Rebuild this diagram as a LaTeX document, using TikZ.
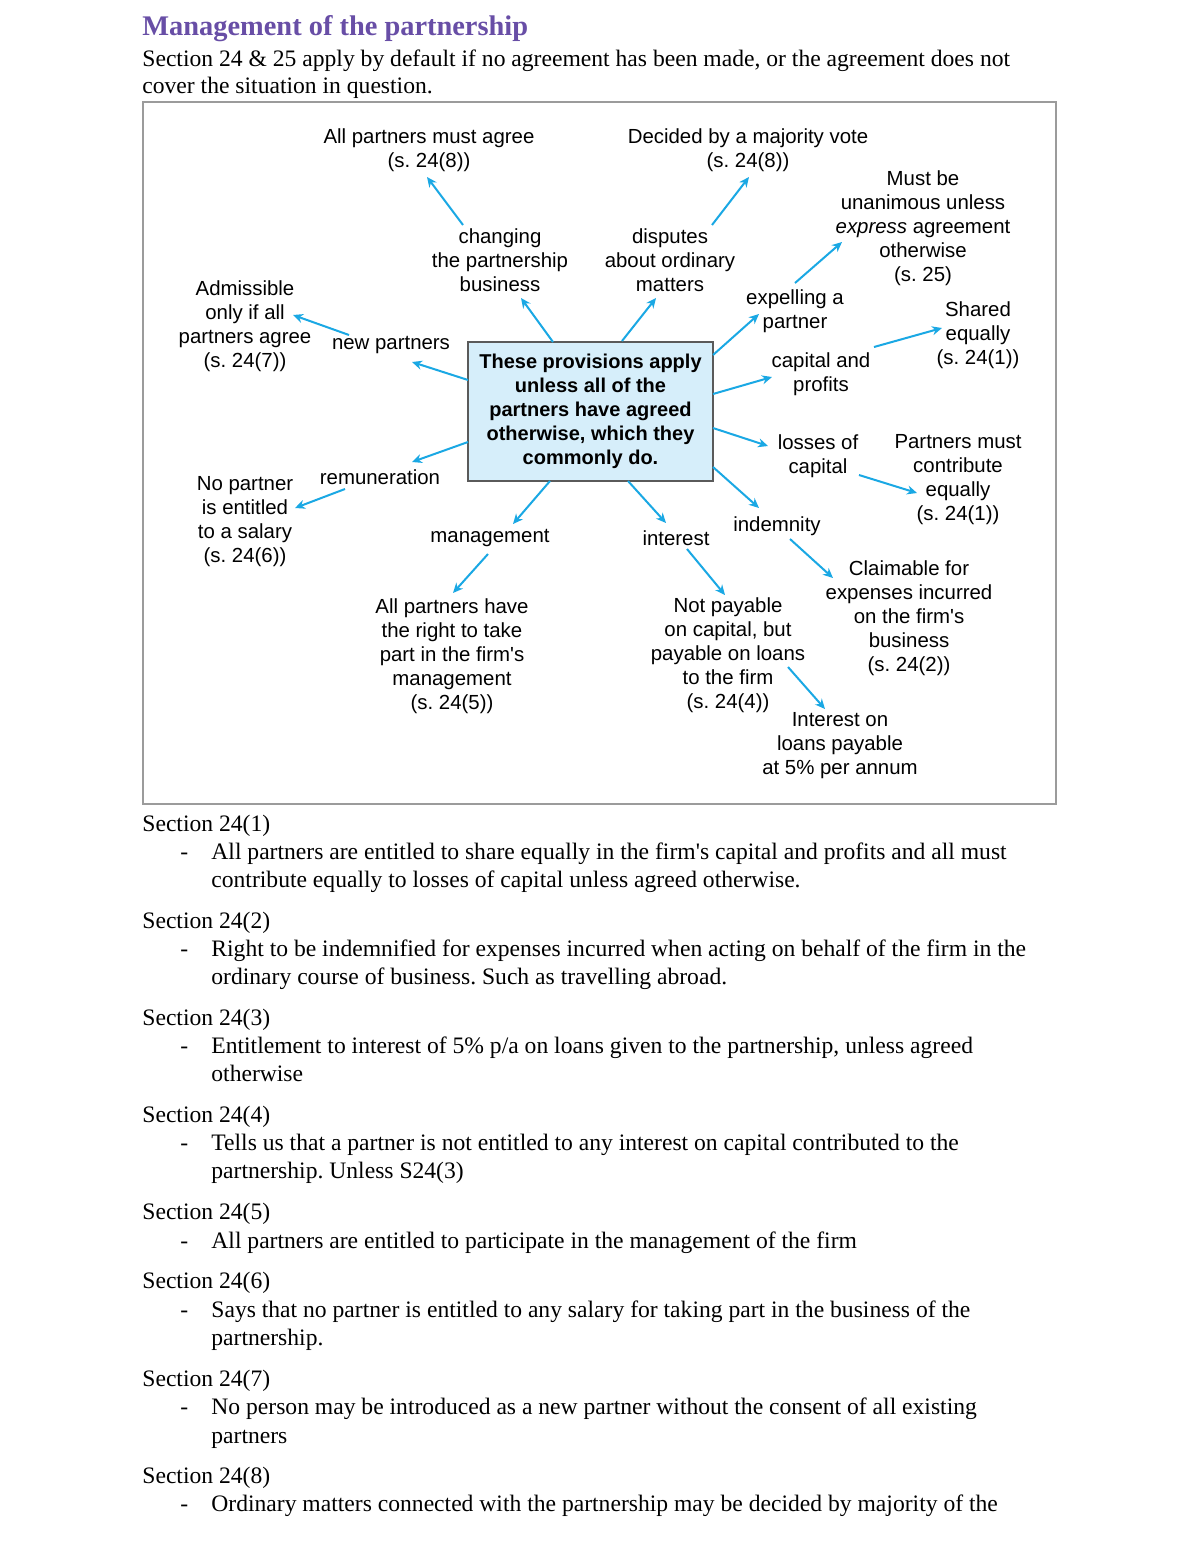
\documentclass[tikz,border=0pt]{standalone}
\usepackage{fontspec}
\setmainfont{Liberation Serif}
\newfontfamily\diagfont{Liberation Sans}
\usetikzlibrary{arrows.meta}
\definecolor{arrowblue}{RGB}{26,168,228}
\definecolor{boxfill}{RGB}{214,238,250}
\definecolor{boxline}{RGB}{90,90,90}
\definecolor{framegray}{RGB}{155,155,155}
\definecolor{titlepurple}{RGB}{104,78,166}
\frenchspacing
\begin{document}
\begin{tikzpicture}[x=0.5pt,y=-0.5pt,
  lbl/.style={align=center,inner sep=0pt,font=\diagfont\fontsize{10.2}{12}\selectfont},
  link/.style={draw=arrowblue,line width=1pt,-{Stealth[length=5pt,width=4.5pt]}},
  bodyline/.style={anchor=base west,inner sep=0pt,font=\fontsize{11.8}{14}\selectfont},
  titletext/.style={anchor=base west,inner sep=0pt,text=titlepurple,font=\bfseries\fontsize{14.2}{16}\selectfont},
  centrebox/.style={draw=boxline,fill=boxfill,line width=0.8pt,minimum width=122.5pt,minimum height=69.5pt,inner sep=0pt,align=center,font=\diagfont\bfseries\fontsize{10}{12}\selectfont},
  framebox/.style={draw=framegray,line width=1.2pt,minimum width=456.5pt,minimum height=351pt,inner sep=0pt}
]
\fill[white] (0,0) rectangle (1200,1553);
\useasboundingbox (0,0) rectangle (1200,1553);

% heading
\node[titletext] (title) at (142,35) {Management of the partnership};
\node[bodyline] (introa) at (142,66) {Section 24 \& 25 apply by default if no agreement has been made, or the agreement does not};
\node[bodyline] (introb) at (142,93) {cover the situation in question.};

% frame
\node[framebox] (frame) at (599.5,453) {};

% centre
\node[centrebox] (box) at (590.5,411.5) {These provisions apply\\unless all of the\\partners have agreed\\otherwise, which they\\commonly do.};

% labels
\node[lbl] (agree8) at (429,150) {All partners must agree\\(s. 24(8))};
\node[lbl] (major8) at (748,150) {Decided by a majority vote\\(s. 24(8))};
\node[lbl] (unan) at (923,228) {Must be\\unanimous unless\\\textit{express} agreement\\otherwise\\(s. 25)};
\node[lbl] (changing) at (500,260) {changing\\the partnership\\business};
\node[lbl] (disputes) at (670,260) {disputes\\about ordinary\\matters};
\node[lbl] (admiss) at (245,326) {Admissible\\only if all\\partners agree\\(s. 24(7))};
\node[lbl] (newp) at (391,345) {new partners};
\node[lbl] (expel) at (795,311) {expelling a\\partner};
\node[lbl] (shared) at (978,335) {Shared\\equally\\(s. 24(1))};
\node[lbl] (capital) at (821,374) {capital and\\profits};
\node[lbl] (losses) at (818,456) {losses of\\capital};
\node[lbl] (contrib) at (958,480) {Partners must\\contribute\\equally\\(s. 24(1))};
\node[lbl] (remun) at (380,477) {remuneration};
\node[lbl] (nosal) at (245,522) {No partner\\is entitled\\to a salary\\(s. 24(6))};
\node[lbl] (mgmt) at (490,538) {management};
\node[lbl] (interest) at (676,538) {interest};
\node[lbl] (indem) at (777,526) {indemnity};
\node[lbl] (allhave) at (452,656) {All partners have\\the right to take\\part in the firm\textquotesingle s\\management\\(s. 24(5))};
\node[lbl] (notpay) at (728,655) {Not payable\\on capital, but\\payable on loans\\to the firm\\(s. 24(4))};
\node[lbl] (claim) at (909,618) {Claimable for\\expenses incurred\\on the firm\textquotesingle s\\business\\(s. 24(2))};
\node[lbl] (int5) at (840,746) {Interest on\\loans payable\\at 5\% per annum};

% connectors
\draw[link] ([shift={(-37,-35)}]changing.center) -- ([shift={(-2,27)}]agree8.center);
\draw[link] ([shift={(-37.5,-69.5)}]box.center) -- ([shift={(21,38)}]changing.center);
\draw[link] ([shift={(42,-35)}]disputes.center) -- ([shift={(1,27)}]major8.center);
\draw[link] ([shift={(31.5,-70.5)}]box.center) -- ([shift={(-14,38)}]disputes.center);
\draw[link] ([shift={(-42,-10)}]newp.center) -- ([shift={(48,-11)}]admiss.center);
\draw[link] ([shift={(-122.5,-31.5)}]box.center) -- ([shift={(21,17)}]newp.center);
\draw[link] ([shift={(0,-28)}]expel.center) -- ([shift={(-81,14)}]unan.center);
\draw[link] ([shift={(122.5,-56.5)}]box.center) -- ([shift={(-36,3)}]expel.center);
\draw[link] ([shift={(53,-27)}]capital.center) -- ([shift={(-36,-7)}]shared.center);
\draw[link] ([shift={(122.5,-17.5)}]box.center) -- ([shift={(-49,3)}]capital.center);
\draw[link] ([shift={(122.5,16.5)}]box.center) -- ([shift={(-50,-10)}]losses.center);
\draw[link] ([shift={(41,19)}]losses.center) -- ([shift={(-41,13)}]contrib.center);
\draw[link] ([shift={(122.5,55.5)}]box.center) -- ([shift={(-18,-18)}]indem.center);
\draw[link] ([shift={(37.5,69.5)}]box.center) -- ([shift={(-10,-15)}]interest.center);
\draw[link] ([shift={(13,13)}]indem.center) -- ([shift={(-76,-40)}]claim.center);
\draw[link] ([shift={(11,11)}]interest.center) -- ([shift={(-3,-60)}]notpay.center);
\draw[link] ([shift={(60,12)}]notpay.center) -- ([shift={(-15,-37)}]int5.center);
\draw[link] ([shift={(-122.5,30.5)}]box.center) -- ([shift={(32,-15)}]remun.center);
\draw[link] ([shift={(-35,12)}]remun.center) -- ([shift={(50,-14)}]nosal.center);
\draw[link] ([shift={(-40.5,69.5)}]box.center) -- ([shift={(23,-14)}]mgmt.center);
\draw[link] ([shift={(-2,16)}]mgmt.center) -- ([shift={(1,-63)}]allhave.center);

% sections
\node[bodyline] (h1) at (142,831) {Section 24(1)};
\node[bodyline] (d1) at (180,859) {-};
\node[bodyline] (t1a) at (211,859) {All partners are entitled to share equally in the firm\textquotesingle s capital and profits and all must};
\node[bodyline] (t1b) at (211,887) {contribute equally to losses of capital unless agreed otherwise.};

\node[bodyline] (h2) at (142,928) {Section 24(2)};
\node[bodyline] (d2) at (180,956) {-};
\node[bodyline] (t2a) at (211,956) {Right to be indemnified for expenses incurred when acting on behalf of the firm in the};
\node[bodyline] (t2b) at (211,984) {ordinary course of business. Such as travelling abroad.};

\node[bodyline] (h3) at (142,1025) {Section 24(3)};
\node[bodyline] (d3) at (180,1053) {-};
\node[bodyline] (t3a) at (211,1053) {Entitlement to interest of 5\% p/a on loans given to the partnership, unless agreed};
\node[bodyline] (t3b) at (211,1081) {otherwise};

\node[bodyline] (h4) at (142,1122) {Section 24(4)};
\node[bodyline] (d4) at (180,1150) {-};
\node[bodyline] (t4a) at (211,1150) {Tells us that a partner is not entitled to any interest on capital contributed to the};
\node[bodyline] (t4b) at (211,1178) {partnership. Unless S24(3)};

\node[bodyline] (h5) at (142,1219) {Section 24(5)};
\node[bodyline] (d5) at (180,1248) {-};
\node[bodyline] (t5a) at (211,1248) {All partners are entitled to participate in the management of the firm};

\node[bodyline] (h6) at (142,1288) {Section 24(6)};
\node[bodyline] (d6) at (180,1317) {-};
\node[bodyline] (t6a) at (211,1317) {Says that no partner is entitled to any salary for taking part in the business of the};
\node[bodyline] (t6b) at (211,1345) {partnership.};

\node[bodyline] (h7) at (142,1386) {Section 24(7)};
\node[bodyline] (d7) at (180,1414) {-};
\node[bodyline] (t7a) at (211,1414) {No person may be introduced as a new partner without the consent of all existing};
\node[bodyline] (t7b) at (211,1443) {partners};

\node[bodyline] (h8) at (142,1483) {Section 24(8)};
\node[bodyline] (d8) at (180,1511) {-};
\node[bodyline] (t8a) at (211,1511) {Ordinary matters connected with the partnership may be decided by majority of the};
\end{tikzpicture}
\end{document}
